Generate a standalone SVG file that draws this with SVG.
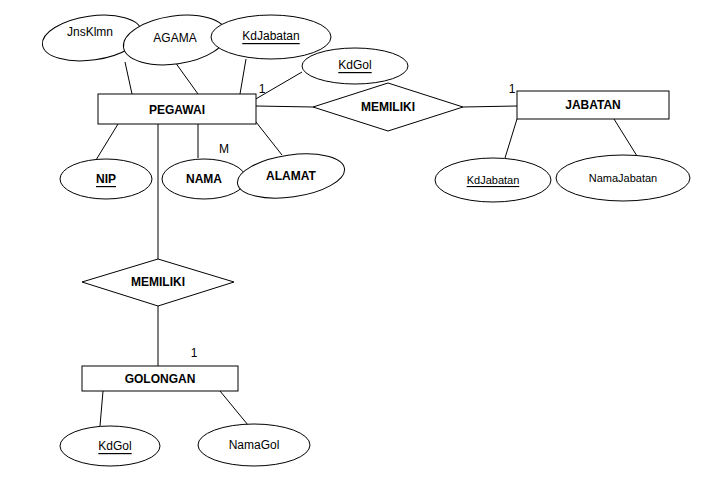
<svg xmlns="http://www.w3.org/2000/svg" width="706" height="494" viewBox="0 0 706 494">
<style>
.s{fill:#fff;stroke:#000;stroke-width:1}
text{font-family:"Liberation Sans",Arial,sans-serif;font-size:12px;text-anchor:middle;dominant-baseline:central;fill:#000}
.b{font-weight:bold}
.u{text-decoration:underline}
line{stroke:#000;stroke-width:1}
</style>
<rect width="706" height="494" fill="#fff"/>
<g id="connectors">
<line x1="125" y1="62" x2="132" y2="94"/>
<line x1="175" y1="62" x2="198" y2="94"/>
<line x1="246" y1="59" x2="240" y2="94"/>
<line x1="302" y1="72" x2="254" y2="100"/>
<line x1="118" y1="124" x2="96" y2="160"/>
<line x1="198" y1="124" x2="198" y2="158"/>
<line x1="256" y1="122" x2="282" y2="155"/>
<line x1="256" y1="106" x2="313" y2="107"/>
<line x1="463" y1="107" x2="517" y2="106"/>
<line x1="517" y1="119" x2="505" y2="158"/>
<line x1="614" y1="119" x2="637" y2="156"/>
<line x1="158" y1="124" x2="158" y2="259"/>
<line x1="158" y1="306" x2="158" y2="366"/>
<line x1="103" y1="391" x2="100" y2="426"/>
<line x1="220" y1="391" x2="248" y2="425"/>
</g>
<g id="JnsKlmn"><ellipse class="s" cx="92" cy="38" rx="50" ry="22" transform="rotate(-8 92 38)"/><text x="90" y="32">JnsKlmn</text></g>
<g id="AGAMA"><ellipse class="s" cx="175" cy="40" rx="52" ry="24" transform="rotate(-8 175 40)"/><text x="175" y="38">AGAMA</text></g>
<g id="KdJabatan1"><ellipse class="s" cx="271" cy="37" rx="60" ry="22"/><text class="u" x="271" y="36">KdJabatan</text></g>
<g id="KdGol1"><ellipse class="s" cx="355" cy="66" rx="53" ry="18"/><text class="u" x="355" y="65">KdGol</text></g>
<g id="PEGAWAI"><rect class="s" x="98" y="94" width="158" height="30"/><text class="b" x="177" y="110">PEGAWAI</text></g>
<g id="NIP"><ellipse class="s" cx="106" cy="179" rx="46" ry="20"/><text class="b u" x="106" y="179">NIP</text></g>
<g id="NAMA"><ellipse class="s" cx="204" cy="179" rx="42" ry="20"/><text class="b" x="204" y="179">NAMA</text></g>
<g id="ALAMAT"><ellipse class="s" cx="291" cy="176" rx="54" ry="21" transform="rotate(-8 291 176)"/><text class="b" x="291" y="176">ALAMAT</text></g>
<g id="MEMILIKI1"><polygon class="s" points="313,107 388,83 463,107 388,131"/><text class="b" x="388" y="107">MEMILIKI</text></g>
<g id="JABATAN"><rect class="s" x="517" y="91" width="152" height="28"/><text class="b" x="593" y="105">JABATAN</text></g>
<g id="KdJabatan2"><ellipse class="s" cx="493" cy="180" rx="58" ry="22"/><text class="u" x="493" y="180" style="font-size:11px">KdJabatan</text></g>
<g id="NamaJabatan"><ellipse class="s" cx="623" cy="178" rx="67" ry="23"/><text x="623" y="178" style="font-size:11px">NamaJabatan</text></g>
<g id="MEMILIKI2"><polygon class="s" points="82,282 158,259 234,282 158,306"/><text class="b" x="158" y="282">MEMILIKI</text></g>
<g id="GOLONGAN"><rect class="s" x="82" y="366" width="156" height="25"/><text class="b" x="160" y="379">GOLONGAN</text></g>
<g id="KdGol2"><ellipse class="s" cx="110" cy="446" rx="50" ry="20"/><text class="u" x="115" y="446">KdGol</text></g>
<g id="NamaGol"><ellipse class="s" cx="254" cy="445" rx="56" ry="21"/><text x="254" y="445">NamaGol</text></g>
<text x="262" y="89">1</text>
<text x="224" y="149">M</text>
<text x="512" y="89">1</text>
<text x="194" y="353">1</text>
</svg>
